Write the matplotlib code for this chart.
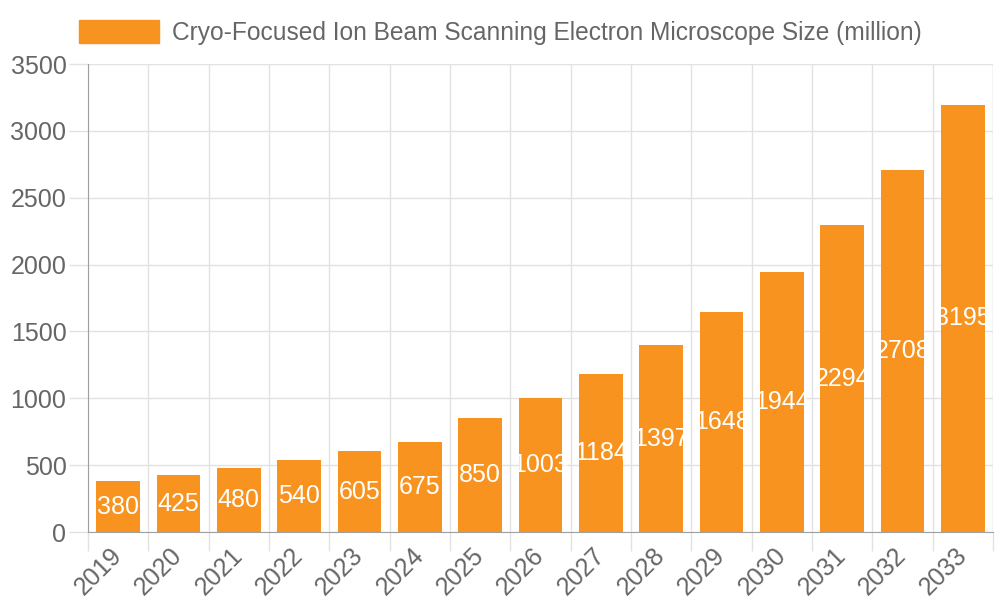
import numpy as np
import matplotlib
matplotlib.use("Agg")
import matplotlib.pyplot as plt
from matplotlib.patches import Rectangle

plt.rcParams['font.family'] = ['Liberation Sans', 'DejaVu Sans']

# data
years = ["2019", "2020", "2021", "2022", "2023", "2024", "2025", "2026",
         "2027", "2028", "2029", "2030", "2031", "2032", "2033"]
sizes = [380, 425, 480, 540, 605, 675, 850, 1003, 1184, 1397, 1648, 1944, 2294, 2708, 3195]
series_name = "Cryo-Focused Ion Beam Scanning Electron Microscope Size (million)"

bar_color = "#F7931E"
grid_color = "#E2E2E2"
axis_color = "#A0A0A0"
text_color = "#666666"
fs = 18

fig = plt.figure(figsize=(10, 6), dpi=100)
ax = fig.add_axes([0.088, 0.1133, 0.905, 0.78])

x = np.arange(len(years))
ax.bar(x, sizes, width=0.72, color=bar_color, zorder=3)

# value labels in the middle of each bar
for xi, v in zip(x, sizes):
    ax.text(xi, v / 2, str(v), ha="center", va="center", color="white",
            fontsize=fs, zorder=4)

ax.set_xlim(-0.5, len(years) - 0.5)
ax.set_ylim(0, 3500)
ax.set_yticks(np.arange(0, 3501, 500))

# category ticks at centers, grid lines at boundaries
ax.set_xticks(x)
ax.set_xticklabels(years, rotation=45, ha="right", va="center", rotation_mode="anchor")
ax.set_xticks(np.arange(-0.5, len(years)), minor=True)
ax.tick_params(axis="x", which="major", length=0, pad=14, labelsize=fs, labelcolor=text_color)
ax.tick_params(axis="x", which="minor", length=14, width=1, color=grid_color)
ax.tick_params(axis="y", length=14, width=1, color=grid_color, pad=1.5,
               labelsize=fs, labelcolor=text_color)

ax.grid(axis="y", color=grid_color, linewidth=1, zorder=0)
ax.grid(axis="x", which="minor", color=grid_color, linewidth=1, zorder=0)
ax.grid(axis="x", which="major", visible=False)

for side in ["top", "right"]:
    ax.spines[side].set_visible(False)
ax.spines["left"].set_color(axis_color)
ax.spines["bottom"].set_color(axis_color)
ax.spines["left"].set_zorder(5)
ax.spines["bottom"].set_zorder(5)
# right edge grid line
ax.axvline(len(years) - 0.5, color=grid_color, linewidth=1, zorder=0)

# legend drawn like the reference: box + label at the top
fig.patches.append(Rectangle((0.079, 1 - 43 / 600), 0.080, 23 / 600,
                             transform=fig.transFigure, color=bar_color))
fig.text(0.172, 1 - 33 / 600, series_name, ha="left", va="center",
         fontsize=17.65, color=text_color)

fig.savefig("out.png", dpi=100)
